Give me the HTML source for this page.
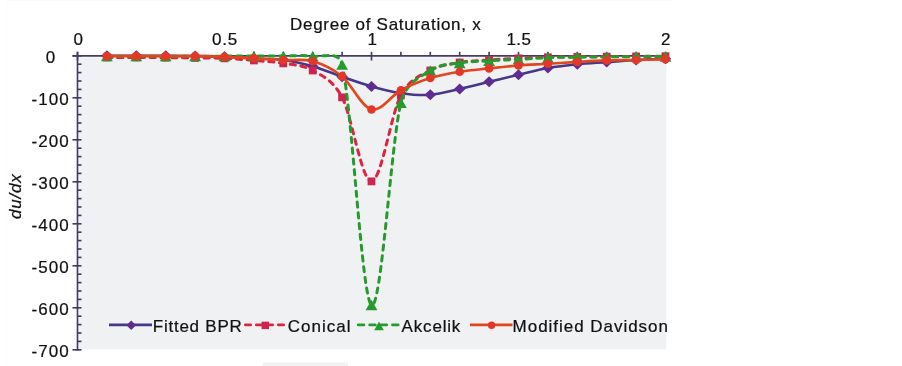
<!DOCTYPE html>
<html><head><meta charset="utf-8"><style>
html,body{margin:0;padding:0;background:#fff;width:902px;height:366px;overflow:hidden}
svg{display:block}
</style></head><body>
<svg width="902" height="366" viewBox="0 0 902 366">
<rect x="79" y="57.3" width="587.2" height="292.1" fill="#f0f1f3"/>
<rect x="263" y="362.3" width="85" height="3.7" fill="#f2f2f2"/>
<rect x="6" y="0" width="665" height="1" fill="#fbfbfb"/>
<rect x="6" y="0" width="1" height="366" fill="#fcfcfc"/>
<g stroke="#453a63" stroke-width="1.65" fill="none">
<line x1="72.5" y1="55.80" x2="666.5" y2="55.80"/>
<line x1="77.50" y1="51.80" x2="77.50" y2="350.8"/>
<line x1="72.5" y1="55.80" x2="81.5" y2="55.80"/>
<line x1="77.50" y1="64.20" x2="81.5" y2="64.20"/>
<line x1="77.50" y1="72.60" x2="81.5" y2="72.60"/>
<line x1="77.50" y1="81.00" x2="81.5" y2="81.00"/>
<line x1="77.50" y1="89.40" x2="81.5" y2="89.40"/>
<line x1="72.5" y1="97.80" x2="81.5" y2="97.80"/>
<line x1="77.50" y1="106.20" x2="81.5" y2="106.20"/>
<line x1="77.50" y1="114.60" x2="81.5" y2="114.60"/>
<line x1="77.50" y1="123.00" x2="81.5" y2="123.00"/>
<line x1="77.50" y1="131.40" x2="81.5" y2="131.40"/>
<line x1="72.5" y1="139.80" x2="81.5" y2="139.80"/>
<line x1="77.50" y1="148.20" x2="81.5" y2="148.20"/>
<line x1="77.50" y1="156.60" x2="81.5" y2="156.60"/>
<line x1="77.50" y1="165.00" x2="81.5" y2="165.00"/>
<line x1="77.50" y1="173.40" x2="81.5" y2="173.40"/>
<line x1="72.5" y1="181.80" x2="81.5" y2="181.80"/>
<line x1="77.50" y1="190.20" x2="81.5" y2="190.20"/>
<line x1="77.50" y1="198.60" x2="81.5" y2="198.60"/>
<line x1="77.50" y1="207.00" x2="81.5" y2="207.00"/>
<line x1="77.50" y1="215.40" x2="81.5" y2="215.40"/>
<line x1="72.5" y1="223.80" x2="81.5" y2="223.80"/>
<line x1="77.50" y1="232.20" x2="81.5" y2="232.20"/>
<line x1="77.50" y1="240.60" x2="81.5" y2="240.60"/>
<line x1="77.50" y1="249.00" x2="81.5" y2="249.00"/>
<line x1="77.50" y1="257.40" x2="81.5" y2="257.40"/>
<line x1="72.5" y1="265.80" x2="81.5" y2="265.80"/>
<line x1="77.50" y1="274.20" x2="81.5" y2="274.20"/>
<line x1="77.50" y1="282.60" x2="81.5" y2="282.60"/>
<line x1="77.50" y1="291.00" x2="81.5" y2="291.00"/>
<line x1="77.50" y1="299.40" x2="81.5" y2="299.40"/>
<line x1="72.5" y1="307.80" x2="81.5" y2="307.80"/>
<line x1="77.50" y1="316.20" x2="81.5" y2="316.20"/>
<line x1="77.50" y1="324.60" x2="81.5" y2="324.60"/>
<line x1="77.50" y1="333.00" x2="81.5" y2="333.00"/>
<line x1="77.50" y1="341.40" x2="81.5" y2="341.40"/>
<line x1="72.5" y1="349.80" x2="81.5" y2="349.80"/>
<line x1="77.50" y1="51.8" x2="77.50" y2="60.5"/>
<line x1="106.90" y1="51.8" x2="106.90" y2="55.80"/>
<line x1="136.30" y1="51.8" x2="136.30" y2="55.80"/>
<line x1="165.70" y1="51.8" x2="165.70" y2="55.80"/>
<line x1="195.10" y1="51.8" x2="195.10" y2="55.80"/>
<line x1="224.50" y1="51.8" x2="224.50" y2="60.5"/>
<line x1="253.90" y1="51.8" x2="253.90" y2="55.80"/>
<line x1="283.30" y1="51.8" x2="283.30" y2="55.80"/>
<line x1="312.70" y1="51.8" x2="312.70" y2="55.80"/>
<line x1="342.10" y1="51.8" x2="342.10" y2="55.80"/>
<line x1="371.50" y1="51.8" x2="371.50" y2="60.5"/>
<line x1="400.90" y1="51.8" x2="400.90" y2="55.80"/>
<line x1="430.30" y1="51.8" x2="430.30" y2="55.80"/>
<line x1="459.70" y1="51.8" x2="459.70" y2="55.80"/>
<line x1="489.10" y1="51.8" x2="489.10" y2="55.80"/>
<line x1="518.50" y1="51.8" x2="518.50" y2="60.5"/>
<line x1="547.90" y1="51.8" x2="547.90" y2="55.80"/>
<line x1="577.30" y1="51.8" x2="577.30" y2="55.80"/>
<line x1="606.70" y1="51.8" x2="606.70" y2="55.80"/>
<line x1="636.10" y1="51.8" x2="636.10" y2="55.80"/>
<line x1="665.50" y1="51.8" x2="665.50" y2="60.5"/>
</g>
<path d="M106.90,55.80 C111.80,55.80 126.50,55.80 136.30,55.80 C146.10,55.80 155.90,55.77 165.70,55.80 C175.50,55.83 185.30,55.87 195.10,56.01 C204.90,56.15 214.70,56.19 224.50,56.64 C234.30,57.09 244.10,58.18 253.90,58.74 C263.70,59.30 273.50,58.74 283.30,60.00 C293.10,61.26 302.90,63.50 312.70,66.30 C322.50,69.10 332.30,73.44 342.10,76.80 C351.90,80.16 361.70,83.73 371.50,86.46 C381.30,89.19 391.10,91.78 400.90,93.18 C410.70,94.58 420.50,95.56 430.30,94.86 C440.10,94.16 449.90,91.15 459.70,88.98 C469.50,86.81 479.30,84.22 489.10,81.84 C498.90,79.46 508.70,77.01 518.50,74.70 C528.30,72.39 538.10,69.73 547.90,67.98 C557.70,66.23 567.50,65.18 577.30,64.20 C587.10,63.22 596.90,62.80 606.70,62.10 C616.50,61.40 626.30,60.56 636.10,60.00 C645.90,59.44 660.60,58.95 665.50,58.74" fill="none" stroke="#463788" stroke-width="2.6" stroke-linejoin="round"/><path d="M106.90,50.30 L112.65,55.80 L106.90,61.30 L101.15,55.80Z" fill="#5f2d91"/><path d="M136.30,50.30 L142.05,55.80 L136.30,61.30 L130.55,55.80Z" fill="#5f2d91"/><path d="M165.70,50.30 L171.45,55.80 L165.70,61.30 L159.95,55.80Z" fill="#5f2d91"/><path d="M195.10,50.51 L200.85,56.01 L195.10,61.51 L189.35,56.01Z" fill="#5f2d91"/><path d="M224.50,51.14 L230.25,56.64 L224.50,62.14 L218.75,56.64Z" fill="#5f2d91"/><path d="M253.90,53.24 L259.65,58.74 L253.90,64.24 L248.15,58.74Z" fill="#5f2d91"/><path d="M283.30,54.50 L289.05,60.00 L283.30,65.50 L277.55,60.00Z" fill="#5f2d91"/><path d="M312.70,60.80 L318.45,66.30 L312.70,71.80 L306.95,66.30Z" fill="#5f2d91"/><path d="M342.10,71.30 L347.85,76.80 L342.10,82.30 L336.35,76.80Z" fill="#5f2d91"/><path d="M371.50,80.96 L377.25,86.46 L371.50,91.96 L365.75,86.46Z" fill="#5f2d91"/><path d="M400.90,87.68 L406.65,93.18 L400.90,98.68 L395.15,93.18Z" fill="#5f2d91"/><path d="M430.30,89.36 L436.05,94.86 L430.30,100.36 L424.55,94.86Z" fill="#5f2d91"/><path d="M459.70,83.48 L465.45,88.98 L459.70,94.48 L453.95,88.98Z" fill="#5f2d91"/><path d="M489.10,76.34 L494.85,81.84 L489.10,87.34 L483.35,81.84Z" fill="#5f2d91"/><path d="M518.50,69.20 L524.25,74.70 L518.50,80.20 L512.75,74.70Z" fill="#5f2d91"/><path d="M547.90,62.48 L553.65,67.98 L547.90,73.48 L542.15,67.98Z" fill="#5f2d91"/><path d="M577.30,58.70 L583.05,64.20 L577.30,69.70 L571.55,64.20Z" fill="#5f2d91"/><path d="M606.70,56.60 L612.45,62.10 L606.70,67.60 L600.95,62.10Z" fill="#5f2d91"/><path d="M636.10,54.50 L641.85,60.00 L636.10,65.50 L630.35,60.00Z" fill="#5f2d91"/><path d="M665.50,53.24 L671.25,58.74 L665.50,64.24 L659.75,58.74Z" fill="#5f2d91"/>
<path d="M106.90,57.48 C111.80,57.48 126.50,57.44 136.30,57.48 C146.10,57.52 155.90,57.62 165.70,57.69 C175.50,57.76 185.30,57.80 195.10,57.90 C204.90,58.00 214.70,57.90 224.50,58.32 C234.30,58.74 244.10,59.58 253.90,60.42 C263.70,61.26 273.50,61.68 283.30,63.36 C293.10,65.04 302.90,64.83 312.70,70.50 C322.50,76.17 332.77,79.78 342.10,97.38 C351.90,115.86 361.70,181.73 371.50,181.38 C381.30,181.03 391.10,113.76 400.90,95.28 C409.91,78.30 420.50,75.96 430.30,70.50" fill="none" stroke="#dc2440" stroke-width="3.0" stroke-linejoin="round" stroke-linecap="round" stroke-dasharray="5.2,5.6"/><path d="M430.30,70.50 C440.10,65.04 449.90,64.27 459.70,62.52 C469.50,60.77 479.30,60.70 489.10,60.00 C498.90,59.30 508.70,58.77 518.50,58.32 C528.30,57.87 538.10,57.52 547.90,57.27 C557.70,57.02 567.50,56.95 577.30,56.85 C587.10,56.74 596.90,56.71 606.70,56.64 C616.50,56.57 626.30,56.50 636.10,56.43 C645.90,56.36 660.60,56.25 665.50,56.22" fill="none" stroke="#dc2440" stroke-width="3.0" stroke-linejoin="round" stroke-linecap="round" stroke-dasharray="5.2,5.6"/><rect x="103.00" y="53.58" width="7.80" height="7.80" fill="#cc2550"/><rect x="132.40" y="53.58" width="7.80" height="7.80" fill="#cc2550"/><rect x="161.80" y="53.79" width="7.80" height="7.80" fill="#cc2550"/><rect x="191.20" y="54.00" width="7.80" height="7.80" fill="#cc2550"/><rect x="220.60" y="54.42" width="7.80" height="7.80" fill="#cc2550"/><rect x="250.00" y="56.52" width="7.80" height="7.80" fill="#cc2550"/><rect x="279.40" y="59.46" width="7.80" height="7.80" fill="#cc2550"/><rect x="308.80" y="66.60" width="7.80" height="7.80" fill="#cc2550"/><rect x="338.20" y="93.48" width="7.80" height="7.80" fill="#cc2550"/><rect x="367.60" y="177.48" width="7.80" height="7.80" fill="#cc2550"/><rect x="397.00" y="91.38" width="7.80" height="7.80" fill="#cc2550"/><rect x="426.40" y="66.60" width="7.80" height="7.80" fill="#cc2550"/><rect x="455.80" y="58.62" width="7.80" height="7.80" fill="#cc2550"/><rect x="485.20" y="56.10" width="7.80" height="7.80" fill="#cc2550"/><rect x="514.60" y="54.42" width="7.80" height="7.80" fill="#cc2550"/><rect x="544.00" y="53.37" width="7.80" height="7.80" fill="#cc2550"/><rect x="573.40" y="52.95" width="7.80" height="7.80" fill="#cc2550"/><rect x="602.80" y="52.74" width="7.80" height="7.80" fill="#cc2550"/><rect x="632.20" y="52.53" width="7.80" height="7.80" fill="#cc2550"/><rect x="661.60" y="52.32" width="7.80" height="7.80" fill="#cc2550"/>
<path d="M106.90,56.14 C111.80,56.14 126.50,56.14 136.30,56.14 C146.10,56.14 155.90,56.14 165.70,56.14 C175.50,56.14 185.30,56.14 195.10,56.14 C204.90,56.14 214.70,56.15 224.50,56.14 C234.30,56.12 244.10,56.07 253.90,56.05 C263.70,56.03 273.50,55.98 283.30,56.01 C293.10,56.04 302.90,54.78 312.70,56.22 C322.50,57.66 338.58,49.74 342.10,64.62 C351.90,106.09 361.70,298.70 371.50,305.07 C381.30,311.44 391.10,141.94 400.90,102.84 C406.21,81.64 420.50,77.15 430.30,70.50" fill="none" stroke="#269b2d" stroke-width="3.0" stroke-linejoin="round" stroke-linecap="round" stroke-dasharray="5.2,5.6"/><path d="M430.30,70.50 C440.10,63.85 449.90,64.55 459.70,62.94 C469.50,61.33 479.30,61.43 489.10,60.84 C498.90,60.24 508.70,59.89 518.50,59.37 C528.30,58.84 538.10,58.07 547.90,57.69 C557.70,57.30 567.50,57.20 577.30,57.06 C587.10,56.92 596.90,56.92 606.70,56.85 C616.50,56.78 626.30,56.71 636.10,56.64 C645.90,56.57 660.60,56.47 665.50,56.43" fill="none" stroke="#269b2d" stroke-width="3.0" stroke-linejoin="round" stroke-linecap="round" stroke-dasharray="5.2,5.6"/><path d="M106.90,50.94 L112.80,61.34 L101.00,61.34Z" fill="#269b2d"/><path d="M136.30,50.94 L142.20,61.34 L130.40,61.34Z" fill="#269b2d"/><path d="M165.70,50.94 L171.60,61.34 L159.80,61.34Z" fill="#269b2d"/><path d="M195.10,50.94 L201.00,61.34 L189.20,61.34Z" fill="#269b2d"/><path d="M224.50,50.94 L230.40,61.34 L218.60,61.34Z" fill="#269b2d"/><path d="M253.90,50.85 L259.80,61.25 L248.00,61.25Z" fill="#269b2d"/><path d="M283.30,50.81 L289.20,61.21 L277.40,61.21Z" fill="#269b2d"/><path d="M312.70,51.02 L318.60,61.42 L306.80,61.42Z" fill="#269b2d"/><path d="M342.10,59.42 L348.00,69.82 L336.20,69.82Z" fill="#269b2d"/><path d="M371.50,299.87 L377.40,310.27 L365.60,310.27Z" fill="#269b2d"/><path d="M400.90,97.64 L406.80,108.04 L395.00,108.04Z" fill="#269b2d"/><path d="M430.30,65.30 L436.20,75.70 L424.40,75.70Z" fill="#269b2d"/><path d="M459.70,57.74 L465.60,68.14 L453.80,68.14Z" fill="#269b2d"/><path d="M489.10,55.64 L495.00,66.04 L483.20,66.04Z" fill="#269b2d"/><path d="M518.50,54.17 L524.40,64.57 L512.60,64.57Z" fill="#269b2d"/><path d="M547.90,52.49 L553.80,62.89 L542.00,62.89Z" fill="#269b2d"/><path d="M577.30,51.86 L583.20,62.26 L571.40,62.26Z" fill="#269b2d"/><path d="M606.70,51.65 L612.60,62.05 L600.80,62.05Z" fill="#269b2d"/><path d="M636.10,51.44 L642.00,61.84 L630.20,61.84Z" fill="#269b2d"/><path d="M665.50,51.23 L671.40,61.63 L659.60,61.63Z" fill="#269b2d"/>
<path d="M106.90,56.14 C111.80,56.14 126.50,56.14 136.30,56.14 C146.10,56.14 155.90,56.14 165.70,56.14 C175.50,56.14 185.30,56.02 195.10,56.14 C204.90,56.25 214.70,56.52 224.50,56.85 C234.30,57.18 244.10,57.59 253.90,58.11 C263.70,58.63 273.50,59.48 283.30,60.00 C293.10,60.52 302.90,58.53 312.70,61.26 C322.50,63.99 332.30,68.33 342.10,76.38 C351.90,84.43 361.70,107.25 371.50,109.56 C381.30,111.87 391.10,95.49 400.90,90.24 C410.70,84.99 420.50,81.14 430.30,78.06 C440.10,74.98 449.90,73.37 459.70,71.76 C469.50,70.15 479.30,69.45 489.10,68.40 C498.90,67.35 508.70,66.23 518.50,65.46 C528.30,64.69 538.10,64.38 547.90,63.78 C557.70,63.18 567.50,62.45 577.30,61.89 C587.10,61.33 596.90,60.73 606.70,60.42 C616.50,60.10 626.30,60.21 636.10,60.00 C645.90,59.79 660.60,59.30 665.50,59.16" fill="none" stroke="#e2461e" stroke-width="2.6" stroke-linejoin="round"/><circle cx="106.90" cy="56.14" r="4.30" fill="#e3372a"/><circle cx="136.30" cy="56.14" r="4.30" fill="#e3372a"/><circle cx="165.70" cy="56.14" r="4.30" fill="#e3372a"/><circle cx="195.10" cy="56.14" r="4.30" fill="#e3372a"/><circle cx="224.50" cy="56.85" r="4.30" fill="#e3372a"/><circle cx="253.90" cy="58.11" r="4.30" fill="#e3372a"/><circle cx="283.30" cy="60.00" r="4.30" fill="#e3372a"/><circle cx="312.70" cy="61.26" r="4.30" fill="#e3372a"/><circle cx="342.10" cy="76.38" r="4.30" fill="#e3372a"/><circle cx="371.50" cy="109.56" r="4.30" fill="#e3372a"/><circle cx="400.90" cy="90.24" r="4.30" fill="#e3372a"/><circle cx="430.30" cy="78.06" r="4.30" fill="#e3372a"/><circle cx="459.70" cy="71.76" r="4.30" fill="#e3372a"/><circle cx="489.10" cy="68.40" r="4.30" fill="#e3372a"/><circle cx="518.50" cy="65.46" r="4.30" fill="#e3372a"/><circle cx="547.90" cy="63.78" r="4.30" fill="#e3372a"/><circle cx="577.30" cy="61.89" r="4.30" fill="#e3372a"/><circle cx="606.70" cy="60.42" r="4.30" fill="#e3372a"/><circle cx="636.10" cy="60.00" r="4.30" fill="#e3372a"/><circle cx="665.50" cy="59.16" r="4.30" fill="#e3372a"/>
<g font-family="Liberation Sans, Arial, sans-serif" font-size="17" fill="#111111" stroke="#111111" stroke-width="0.22">
<text x="290.00" y="29.50" letter-spacing="0.72">Degree of Saturation, x</text>
<text x="73.55" y="45.10" letter-spacing="0.00">0</text>
<text x="212.05" y="45.10" letter-spacing="0.77">0.5</text>
<text x="367.52" y="45.10" letter-spacing="0.00">1</text>
<text x="506.40" y="45.10" letter-spacing="0.45">1.5</text>
<text x="660.88" y="45.10" letter-spacing="0.00">2</text>
<text x="45.85" y="63.30" letter-spacing="0.00">0</text>
<text x="31.45" y="105.20" letter-spacing="1.10">-100</text>
<text x="31.45" y="147.20" letter-spacing="1.10">-200</text>
<text x="31.45" y="189.20" letter-spacing="1.10">-300</text>
<text x="31.45" y="231.20" letter-spacing="1.10">-400</text>
<text x="31.45" y="273.20" letter-spacing="1.10">-500</text>
<text x="31.45" y="315.20" letter-spacing="1.10">-600</text>
<text x="31.45" y="357.20" letter-spacing="1.10">-700</text>
<text transform="translate(21.0,218.90) rotate(-90)" font-style="italic" letter-spacing="0.78">du/dx</text>
<text x="152.80" y="331.50" letter-spacing="0.75">Fitted BPR</text>
<text x="287.65" y="331.50" letter-spacing="1.03">Conical</text>
<text x="401.60" y="331.50" letter-spacing="0.82">Akcelik</text>
<text x="512.60" y="331.50" letter-spacing="0.97">Modified Davidson</text>
</g>
<line x1="109" y1="324.90" x2="152" y2="324.90" stroke="#463788" stroke-width="2.8"/>
<path d="M131.20,320.55 L135.95,325.30 L131.20,330.05 L126.45,325.30Z" fill="#5f2d91"/>
<line x1="245.3" y1="324.90" x2="286" y2="324.90" stroke="#dc2440" stroke-width="2.6" stroke-linecap="round" stroke-dasharray="5.4,5.6"/>
<rect x="261.55" y="321.65" width="7.50" height="7.50" fill="#cc2550"/>
<line x1="358.2" y1="324.90" x2="400" y2="324.90" stroke="#269b2d" stroke-width="2.6" stroke-linecap="round" stroke-dasharray="5.8,5.6"/>
<path d="M379.00,321.40 L383.80,330.20 L374.20,330.20Z" fill="#269b2d"/>
<line x1="470" y1="324.90" x2="512.5" y2="324.90" stroke="#e2461e" stroke-width="2.8"/>
<circle cx="491.60" cy="325.30" r="3.70" fill="#e3372a"/>
</svg>
</body></html>
